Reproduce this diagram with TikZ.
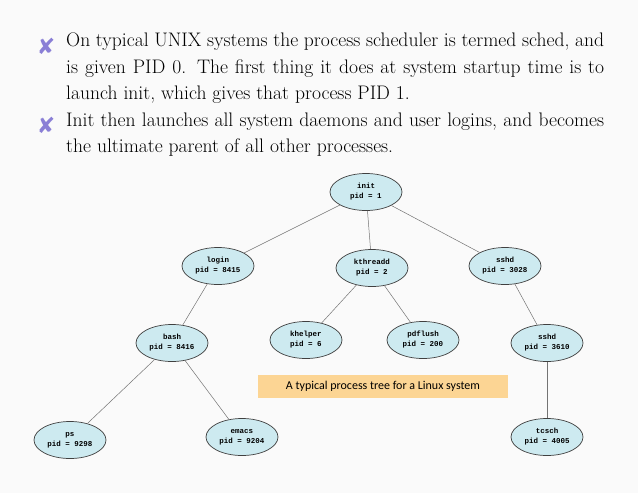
\documentclass[tikz,border=0pt]{standalone}
\usepackage{fontspec}
\newfontfamily\monof{Liberation Mono}
\newfontfamily\symf{DejaVu Sans}
\newfontfamily\capf{Carlito}
\usetikzlibrary{shapes.geometric}
\definecolor{nodefill}{HTML}{CDEAF0}
\definecolor{capfill}{HTML}{FCD594}
\definecolor{bulc}{HTML}{8A7FD6}
\begin{document}
\begin{tikzpicture}[x=1pt,y=-1pt,
  proc/.style={ellipse,draw=black!75,line width=0.7pt,fill=nodefill,minimum width=72pt,minimum height=37pt,inner sep=0pt,align=center,font=\monof\bfseries\fontsize{7.5}{10}\selectfont},
  edge/.style={draw=black!55,line width=0.5pt},
  bul/.style={text=bulc,font=\symf\bfseries\fontsize{22}{22}\selectfont,inner sep=0pt}]
\fill[black!2] (0,0) rectangle (638,493);
\useasboundingbox (0,0) rectangle (638,493);
\node[bul] (b1) at (46,46) {✘};
\node[bul] (b2) at (46,125) {✘};
\node[anchor=north west,text width=538pt,inner sep=0pt,align=justify,font=\fontsize{19.6}{26.5}\selectfont] (t1) at (66,33)
 {On typical UNIX systems the process scheduler is termed sched, and is given PID 0. The first thing it does at system startup time is to launch init, which gives that process PID 1.\par
 Init then launches all system daemons and user logins, and becomes the ultimate parent of all other processes.};
\node[proc] (init) at (366,192) {init\\pid = 1};
\node[proc] (login) at (218,266) {login\\pid = 8415};
\node[proc] (kth) at (372,268) {kthreadd\\pid = 2};
\node[proc] (sshd) at (505,266) {sshd\\pid = 3028};
\node[proc] (bash) at (172,343) {bash\\pid = 8416};
\node[proc] (khelper) at (306,340) {khelper\\pid = 6};
\node[proc] (pdflush) at (423,340) {pdflush\\pid = 200};
\node[proc] (sshd2) at (547,343) {sshd\\pid = 3610};
\node[proc] (ps) at (70,440) {ps\\pid = 9298};
\node[proc] (emacs) at (242,437) {emacs\\pid = 9204};
\node[proc] (tcsch) at (547,437) {tcsch\\pid = 4005};
\draw[edge] (init) -- (login);
\draw[edge] (init) -- (kth);
\draw[edge] (init) -- (sshd);
\draw[edge] (login) -- (bash);
\draw[edge] (kth) -- (khelper);
\draw[edge] (kth) -- (pdflush);
\draw[edge] (sshd) -- (sshd2);
\draw[edge] (bash) -- (ps);
\draw[edge] (bash) -- (emacs);
\draw[edge] (sshd2) -- (tcsch);
\node[fill=capfill,minimum width=250pt,minimum height=23pt,inner sep=0pt,font=\capf\fontsize{12}{14}\selectfont] (cap) at (383,386) {A typical process tree for a Linux system};
\end{tikzpicture}
\end{document}
